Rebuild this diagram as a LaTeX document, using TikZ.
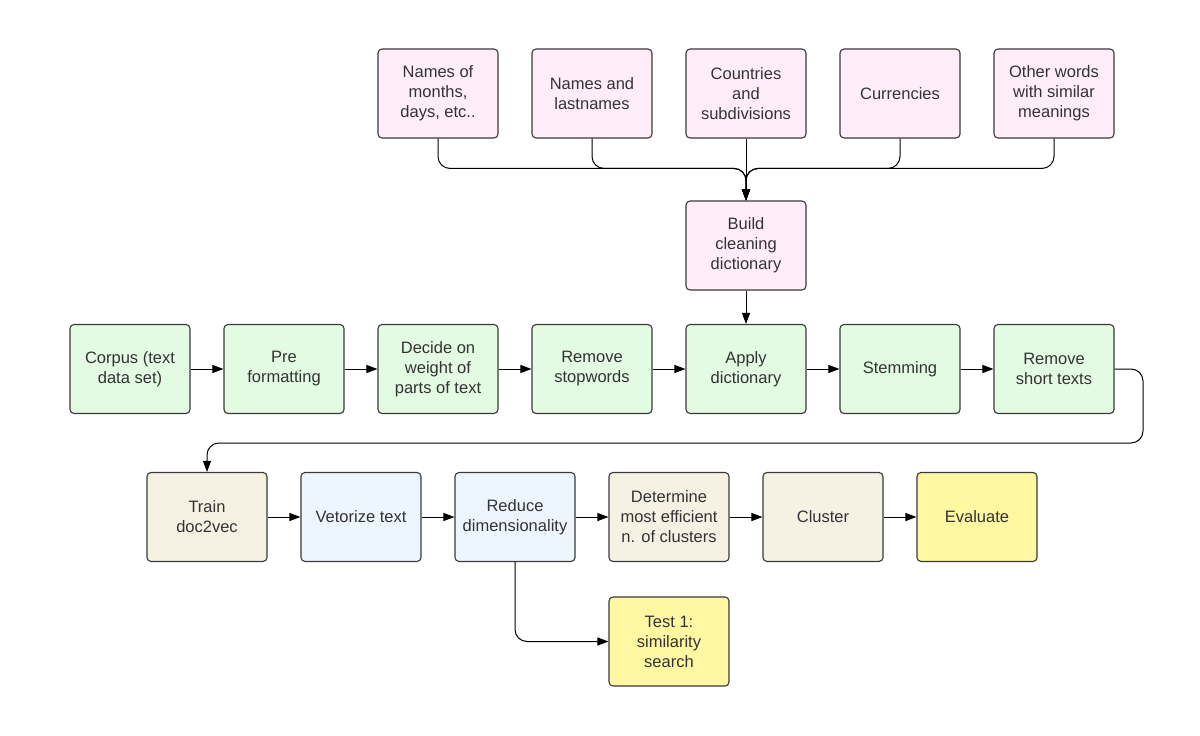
\documentclass[tikz,border=0pt]{standalone}
\usepackage{fontspec}
\setmainfont{Liberation Sans}
\usetikzlibrary{arrows.meta,calc}
\definecolor{pinkf}{HTML}{FFEEFA}
\definecolor{greenf}{HTML}{E3FAE3}
\definecolor{beigef}{HTML}{F5F2E3}
\definecolor{bluef}{HTML}{EDF5FF}
\definecolor{yellowf}{HTML}{FFF7A1}
\definecolor{txt}{HTML}{333333}
\definecolor{edge}{HTML}{3A3A3A}
\begin{document}
\begin{tikzpicture}[x=1pt,y=-1pt,
  box/.style={draw=edge,line width=1.1pt,rounded corners=4pt,minimum width=120pt,minimum height=89pt,
    align=center,text=txt,font=\fontsize{16.5}{20}\selectfont,inner sep=2pt},
  pinkbox/.style={box,fill=pinkf},
  greenbox/.style={box,fill=greenf},
  beigebox/.style={box,fill=beigef},
  bluebox/.style={box,fill=bluef},
  yellowbox/.style={box,fill=yellowf},
  conn/.style={draw=black,line width=1pt,-{Triangle[length=11pt,width=8pt]}},
  link/.style={draw=black,line width=1pt}]
\useasboundingbox (0,0) rectangle (1200,736);
\fill[white] (0,0) rectangle (1200,736);
% top row
\node[pinkbox] (t1) at (438,93.5) {Names of\\months,\\days, etc..};
\node[pinkbox] (t2) at (592,93.5) {Names and\\lastnames};
\node[pinkbox] (t3) at (746,93.5) {Countries\\and\\subdivisions};
\node[pinkbox] (t4) at (900,93.5) {Currencies};
\node[pinkbox] (t5) at (1054,93.5) {Other words\\with similar\\meanings};
\node[pinkbox] (build) at (746,245.5) {Build\\cleaning\\dictionary};
% middle row
\node[greenbox] (m1) at (130,369) {Corpus (text\\data set)};
\node[greenbox] (m2) at (284,369) {Pre\\formatting};
\node[greenbox] (m3) at (438,369) {Decide on\\weight of\\parts of text};
\node[greenbox] (m4) at (592,369) {Remove\\stopwords};
\node[greenbox] (m5) at (746,369) {Apply\\dictionary};
\node[greenbox] (m6) at (900,369) {Stemming};
\node[greenbox] (m7) at (1054,369) {Remove\\short texts};
% bottom row
\node[beigebox] (b1) at (207,517) {Train\\doc2vec};
\node[bluebox] (b2) at (361,517) {Vetorize text};
\node[bluebox] (b3) at (515,517) {Reduce\\dimensionality};
\node[beigebox] (b4) at (669,517) {Determine\\most efficient\\n. of clusters};
\node[beigebox] (b5) at (823,517) {Cluster};
\node[yellowbox] (b6) at (977,517) {Evaluate};
\node[yellowbox] (test) at (669,641.5) {Test 1:\\similarity\\search};
% merge into build
\coordinate (merge) at ($(build.north)+(0,32pt)$);
\foreach \n in {t1,t2,t4,t5}{
  \draw[conn,rounded corners=12pt] (\n.south) |- (merge) -- (build.north);
}
\draw[conn] (t3.south) -- (build.north);
\draw[conn] (build.south) -- (m5.north);
% middle chain
\draw[conn] (m1) -- (m2);
\draw[conn] (m2) -- (m3);
\draw[conn] (m3) -- (m4);
\draw[conn] (m4) -- (m5);
\draw[conn] (m5) -- (m6);
\draw[conn] (m6) -- (m7);
% wrap
\coordinate (wrap) at (1143,443);
\draw[conn,rounded corners=12pt] (m7.east) -| (wrap) -| (b1.north);
% bottom chain
\draw[conn] (b1) -- (b2);
\draw[conn] (b2) -- (b3);
\draw[conn] (b3) -- (b4);
\draw[conn] (b4) -- (b5);
\draw[conn] (b5) -- (b6);
\draw[conn,rounded corners=12pt] (b3.south) |- (test.west);
\end{tikzpicture}
\end{document}
